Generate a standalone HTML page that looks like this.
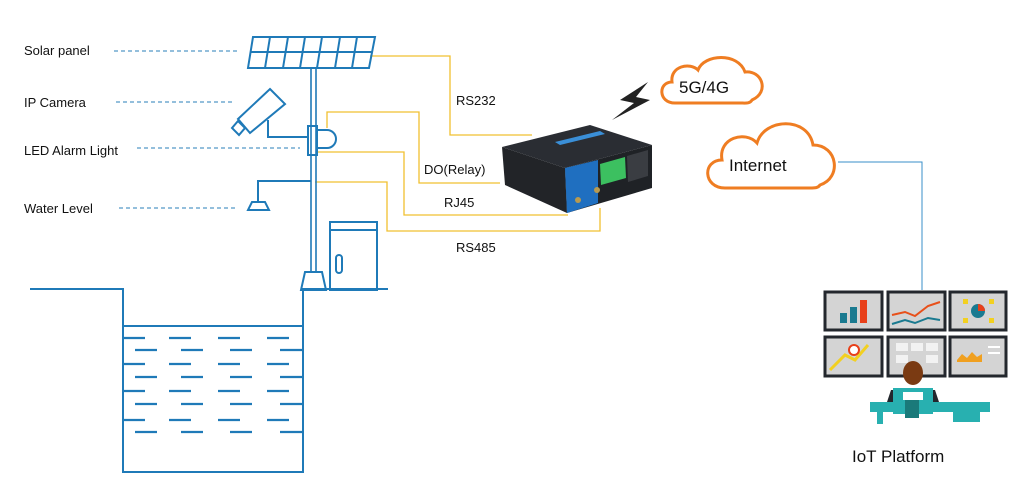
<!DOCTYPE html>
<html><head><meta charset="utf-8"><style>
html,body{margin:0;padding:0;background:#fff;}
svg{display:block;font-family:"Liberation Sans",Arial,sans-serif;}
</style></head><body>
<svg width="1024" height="493" viewBox="0 0 1024 493" xmlns="http://www.w3.org/2000/svg">
<rect width="1024" height="493" fill="#fff"/>
<g font-size="13" fill="#111">
<text x="24" y="55">Solar panel</text>
<text x="24" y="107">IP Camera</text>
<text x="24" y="155">LED Alarm Light</text>
<text x="24" y="213">Water Level</text>
</g>
<g stroke="#2a7fb8" stroke-width="1" stroke-dasharray="4,3" fill="none">
<line x1="114" y1="51" x2="238" y2="51"/>
<line x1="116" y1="102" x2="235" y2="102"/>
<line x1="137" y1="148" x2="300" y2="148"/>
<line x1="119" y1="208" x2="238" y2="208"/>
</g>
<g stroke="#f0c030" stroke-width="1.3" fill="none">
<polyline points="370,56 450,56 450,135 532,135"/>
<polyline points="327,128 327,112 419,112 419,183 500,183"/>
<polyline points="318,152 404,152 404,215 568,215"/>
<polyline points="315,182 387,182 387,231 600,231 600,208"/>
</g>
<g font-size="13" fill="#111">
<text x="456" y="105">RS232</text>
<text x="424" y="174">DO(Relay)</text>
<text x="444" y="207">RJ45</text>
<text x="456" y="252">RS485</text>
</g>
<g stroke="#1f7ab8" stroke-width="2" fill="none">
<polygon points="253,37 375,37 369,68 248,68"/>
<line x1="250" y1="52" x2="372" y2="52"/>
<line x1="270" y1="37" x2="265" y2="68"/><line x1="288" y1="37" x2="283" y2="68"/>
<line x1="305" y1="37" x2="300" y2="68"/><line x1="322" y1="37" x2="317" y2="68"/>
<line x1="340" y1="37" x2="335" y2="68"/><line x1="357" y1="37" x2="352" y2="68"/>
<line x1="311" y1="68" x2="311" y2="272" stroke-width="1.6"/><line x1="316" y1="68" x2="316" y2="272" stroke-width="1.6"/>
<polygon points="305,272 322,272 326,290 301,290"/>
<polygon points="270,89 285,104 250,133 238,119"/>
<polygon points="238,121 245,128 239,135 232,128"/>
<polyline points="268,120 268,137 308,137"/>
<rect x="308" y="126" width="9" height="29"/>
<path d="M317,130 h10 a9,9 0 0 1 0,18 h-10"/>
<polyline points="311,181 258,181 258,202"/>
<polygon points="252,202 265,202 269,210 248,210"/>
<rect x="330" y="222" width="47" height="68"/>
<line x1="330" y1="230" x2="377" y2="230"/>
<rect x="336" y="255" width="6" height="18" rx="3"/>
<polyline points="30,289 123,289 123,472 303,472 303,289 388,289"/>
<line x1="123" y1="326" x2="303" y2="326"/>
</g>
<g stroke="#1f7ab8" stroke-width="2.2">
<g id="ra"><line x1="124" y1="338" x2="145" y2="338"/><line x1="169" y1="338" x2="191" y2="338"/><line x1="218" y1="338" x2="240" y2="338"/><line x1="267" y1="338" x2="289" y2="338"/></g>
<g id="rb"><line x1="135" y1="350" x2="157" y2="350"/><line x1="181" y1="350" x2="203" y2="350"/><line x1="230" y1="350" x2="252" y2="350"/><line x1="280" y1="350" x2="302" y2="350"/></g>
<use href="#ra" y="26"/><use href="#rb" y="27"/>
<use href="#ra" y="53"/><use href="#rb" y="54"/>
<use href="#ra" y="82"/><use href="#rb" y="82"/>
</g>
<!-- router -->
<polygon points="502,147 590,125 652,145 565,168" fill="#2a2d33"/>
<polygon points="555,142 600,131 605,134 560,145" fill="#3a8fd8"/>
<polygon points="502,147 565,168 567,213 505,185" fill="#222428"/>
<polygon points="565,168 652,145 652,188 567,213" fill="#1f2226"/>
<polygon points="565,168 598,160 598,203 567,213" fill="#1f6fc0"/>
<polygon points="600,164 625,157 626,178 601,185" fill="#3cc060"/>
<polygon points="627,156 648,150 648,176 628,182" fill="#3a3d42"/>
<circle cx="578" cy="200" r="3" fill="#b89a50"/><circle cx="597" cy="190" r="3" fill="#b89a50"/>
<polygon points="648,82 620,100 634,103 612,120 650,100 636,97" fill="#222"/>
<g fill="#fff" stroke="#ef7d22" stroke-width="3">
<path d="M675,103 C658,103 658,82 672,82 C670,66 690,62 698,70 C704,54 738,52 745,72 C762,70 770,92 752,100 C750,104 745,103 740,103 Z"/>
<path d="M725,188 C703,188 702,160 722,160 C718,138 745,130 757,143 C764,118 808,116 813,145 C838,145 842,178 820,185 C818,188 815,188 810,188 Z"/>
</g>
<text x="679" y="93" font-size="17" fill="#111">5G/4G</text>
<text x="729" y="171" font-size="17" fill="#111">Internet</text>
<polyline points="838,162 922,162 922,290" stroke="#3a8fc8" stroke-width="1" fill="none"/>
<g fill="#d4d4d4" stroke="#23272d" stroke-width="3">
<rect x="825" y="292" width="57" height="38"/><rect x="888" y="292" width="57" height="38"/><rect x="950" y="292" width="56" height="38"/>
<rect x="825" y="337" width="57" height="39"/><rect x="888" y="337" width="57" height="39"/><rect x="950" y="337" width="56" height="39"/>
</g>
<rect x="840" y="313" width="7" height="10" fill="#1a7a90"/><rect x="850" y="307" width="7" height="16" fill="#1a7a90"/><rect x="860" y="300" width="7" height="23" fill="#e8401a"/>
<polyline points="892,315 905,312 915,316 928,306 940,302" stroke="#e8501a" stroke-width="2" fill="none"/>
<polyline points="892,324 905,320 915,323 928,318 940,320" stroke="#1a7a90" stroke-width="2" fill="none"/>
<g fill="#f2d020"><rect x="963" y="299" width="5" height="5"/><rect x="989" y="299" width="5" height="5"/><rect x="963" y="318" width="5" height="5"/><rect x="989" y="318" width="5" height="5"/></g>
<circle cx="978" cy="311" r="7" fill="#1a7a90"/><path d="M978,311 l0,-7 a7,7 0 0 1 7,7z" fill="#e8401a"/>
<polyline points="830,370 845,355 855,360 868,345" stroke="#f2d020" stroke-width="3" fill="none"/>
<circle cx="854" cy="350" r="5" fill="#fff" stroke="#e8401a" stroke-width="2"/>
<g fill="#f2f2f2"><rect x="896" y="343" width="12" height="8"/><rect x="911" y="343" width="12" height="8"/><rect x="926" y="343" width="12" height="8"/><rect x="896" y="355" width="12" height="8"/><rect x="926" y="355" width="12" height="8"/></g>
<path d="M957,360 l5,-6 5,4 5,-6 5,5 5,-3 v8 h-25z" fill="#f0a020"/>
<rect x="988" y="346" width="12" height="2" fill="#fff"/><rect x="988" y="352" width="12" height="2" fill="#fff"/>
<ellipse cx="913" cy="373" rx="10" ry="12" fill="#7a3a12"/>
<path d="M886,405 l5,-15 h44 l5,15z" fill="#23272d"/>
<rect x="870" y="402" width="120" height="10" fill="#28b0b0"/>
<rect x="893" y="388" width="40" height="26" fill="#28b0b0"/>
<rect x="903" y="392" width="20" height="8" fill="#fff"/>
<rect x="905" y="400" width="14" height="18" fill="#1a7a7a"/>
<rect x="953" y="408" width="27" height="14" fill="#28b0b0"/>
<rect x="877" y="410" width="6" height="14" fill="#28b0b0"/>
<text x="852" y="462" font-size="17" fill="#111">IoT Platform</text>
</svg>
</body></html>
